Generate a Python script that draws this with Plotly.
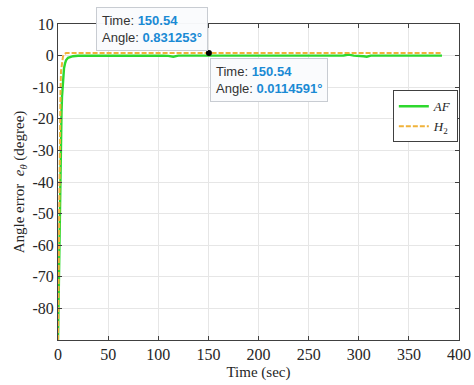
import plotly.graph_objects as go

# AF (proposed) angle error
af_t = [0, 0.5, 1, 1.5, 2, 2.5, 3, 3.5, 4, 5, 6, 7, 8, 10, 12, 15, 20, 40, 60, 80, 100, 105, 110, 115, 120, 150, 200, 250, 285, 290, 295, 305, 308, 312, 340, 383]
af_y = [-90, -78, -66, -54, -43, -33, -25, -18, -13, -7, -4, -2.5, -1.5, -0.7, -0.4, -0.2, -0.05, 0.0, 0.0, 0.0, 0.15, 0.0, -0.1, -0.35, 0.0, 0.01, 0.0, 0.0, 0.05, 0.3, 0.0, -0.2, -0.35, 0.0, 0.0, 0.0]

# H2 angle error
h2_t = [0, 0.5, 1, 1.5, 2, 2.5, 3, 4, 5, 6, 7, 8, 10, 383]
h2_y = [-90, -68, -48, -32, -20, -11, -5, -1.5, -0.2, 0.4, 0.7, 0.8, 0.83, 0.83]

tip_t = [150.54, 150.54]
tip_angle = [0.831253, 0.0114591]

x_ticks = [0, 50, 100, 150, 200, 250, 300, 350, 400]
y_ticks = [10, 0, -10, -20, -30, -40, -50, -60, -70, -80]

serif = "Liberation Serif, Times New Roman, serif"
sans = "Liberation Sans, Arial, sans-serif"
blue = "#1a8ad4"

fig = go.Figure()
fig.add_trace(go.Scatter(x=af_t, y=af_y, mode="lines", name="<i>AF</i>",
                         line=dict(color="#2ed82e", width=2.4)))
fig.add_trace(go.Scatter(x=h2_t, y=h2_y, mode="lines", name="<i>H</i><sub>2</sub>",
                         line=dict(color="#f0b23a", width=2, dash="5px,2px")))
fig.add_trace(go.Scatter(x=tip_t[:1], y=tip_angle[:1], mode="markers", showlegend=False,
                         marker=dict(color="black", size=6)))

def tip(t, a):
    return (f"Time: <b><span style='color:{blue}'>{t:.2f}</span></b><br>"
            f"Angle: <b><span style='color:{blue}'>{a:g}°</span></b>")

fig.add_annotation(x=tip_t[0], y=tip_angle[0], text=tip(tip_t[0], tip_angle[0]),
                   showarrow=False, xanchor="right", yanchor="bottom", align="left",
                   xshift=-1, yshift=2, font=dict(family=sans, size=13, color="#333333"),
                   bgcolor="rgba(250,251,253,0.97)", bordercolor="#c8ccd2", borderwidth=1, borderpad=5)
fig.add_annotation(x=tip_t[1], y=tip_angle[1], text=tip(tip_t[1], 0.0114591),
                   showarrow=False, xanchor="left", yanchor="top", align="left",
                   xshift=1, yshift=-2, font=dict(family=sans, size=13, color="#333333"),
                   bgcolor="rgba(250,251,253,0.97)", bordercolor="#c8ccd2", borderwidth=1, borderpad=5)

axis_common = dict(showgrid=True, gridcolor="#e6e6e6", gridwidth=1, zeroline=False,
                   showline=True, linecolor="#404040", linewidth=1, mirror="ticks",
                   ticks="inside", ticklen=4, tickcolor="#404040", automargin=False,
                   ticklabeloverflow="allow",
                   tickfont=dict(family=serif, size=16, color="#262626"))

fig.update_layout(
    width=474, height=385,
    margin=dict(l=58, r=15, t=24, b=45),
    paper_bgcolor="white", plot_bgcolor="white",
    xaxis=dict(range=[0, 400], tickvals=x_ticks, ticktext=[str(v) for v in x_ticks],
               title=dict(text="Time (sec)", font=dict(family=serif, size=15, color="#262626"), standoff=4),
               **axis_common),
    yaxis=dict(range=[-90, 10], tickvals=y_ticks, ticktext=[str(v) for v in y_ticks],
               title=dict(text="Angle error  <i>e</i><sub><i>θ</i></sub> (degree)",
                          font=dict(family=serif, size=15, color="#262626"), standoff=4),
               **axis_common),
    legend=dict(x=0.835, y=0.79, xanchor="left", yanchor="top",
                bgcolor="white", bordercolor="#404040", borderwidth=1,
                font=dict(family=serif, size=13, color="#262626"),
                tracegroupgap=0, itemwidth=30),
    showlegend=True,
)

# remove the default page margin so the 474x385 figure fills the window exactly
fig.write_html("out.html", config={"displayModeBar": False},
               post_script="document.body.style.margin='0';document.body.style.overflow='hidden';")
